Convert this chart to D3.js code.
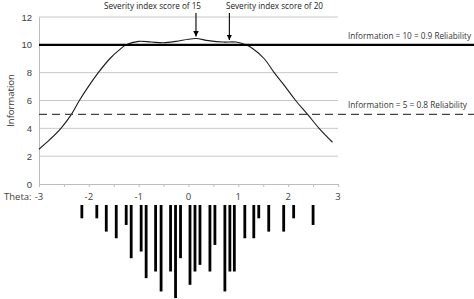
<!DOCTYPE html>
<html>
<head>
<meta charset="utf-8">
<script src="https://cdn.jsdelivr.net/npm/d3@7"></script>
<style>
  body { margin: 0; background: #fff; }
  svg { font-family: "Open Sans", "Liberation Sans", sans-serif; }
</style>
</head>
<body>
<svg id="chart" width="474" height="299"></svg>
<script>
// information curve (theta, information)
var curveTheta = [-3.0, -2.78, -2.56, -2.35, -2.19, -2.01, -1.81, -1.58, -1.4, -1.25, -1.0, -0.75, -0.5, -0.25, 0.0, 0.15, 0.4, 0.7, 0.95, 1.15, 1.3, 1.52, 1.72, 1.94, 2.15, 2.39, 2.62, 2.89];
var curveInfo = [2.5, 3.2, 4.0, 5.0, 6.0, 7.0, 8.0, 9.0, 9.6, 10.0, 10.25, 10.2, 10.15, 10.25, 10.4, 10.45, 10.3, 10.2, 10.2, 10.0, 9.7, 9.0, 8.0, 7.0, 6.0, 5.0, 4.0, 3.0];

// item locations and counts shown as bars under the axis
var itemTheta = [-2.14, -1.84, -1.65, -1.45, -1.25, -1.15, -0.95, -0.85, -0.66, -0.55, -0.36, -0.26, -0.16, 0.03, 0.13, 0.23, 0.43, 0.53, 0.73, 0.83, 0.92, 1.13, 1.31, 1.41, 1.61, 1.91, 2.11, 2.5];
var itemCount = [2, 2, 4, 5, 3, 8, 7, 11, 10, 13, 10, 14, 8, 12, 10, 9, 10, 6, 13, 10, 10, 5, 5, 2, 4, 4, 2, 3];

var yTicks = [0, 2, 4, 6, 8, 10, 12];
var xTicks = [-3, -2, -1, 0, 1, 2, 3];
var refLines = [
  {value: 10, label: "Information = 10 = 0.9 Reliability"},
  {value: 5, label: "Information = 5 = 0.8 Reliability"}
];
var notes = [
  {label: "Severity index score of 15", theta: 0.15, info: 10.45},
  {label: "Severity index score of 20", theta: 0.82, info: 10.2}
];

var svg = d3.select("#chart");

var x = d3.scaleLinear().domain([-3, 3]).range([39, 338]);
var y = d3.scaleLinear().domain([0, 12]).range([184, 17]);
var barLen = d3.scaleLinear().domain([0, 1]).range([0, 6.65]);

// gridlines
svg.append("g")
  .selectAll("line")
  .data(yTicks.filter(d => d > 0))
  .join("line")
  .attr("x1", x(-3))
  .attr("x2", x(3))
  .attr("y1", d => y(d))
  .attr("y2", d => y(d))
  .attr("stroke", "#c8c8c8")
  .attr("stroke-width", 1);

// y axis
var yAxis = svg.append("g")
  .attr("transform", "translate(" + x(-3) + ",0)")
  .call(d3.axisLeft(y).tickValues(yTicks).tickSize(0).tickPadding(7));
yAxis.select(".domain").attr("stroke", "#bdbdbd");
yAxis.selectAll("text").attr("fill", "#404040").attr("font-size", 9.5);

// x axis
var xAxis = svg.append("g")
  .attr("transform", "translate(0," + y(0) + ")")
  .call(d3.axisBottom(x).ticks(12).tickSize(3).tickFormat(""));
xAxis.select(".domain").attr("stroke", "#bdbdbd");
xAxis.selectAll(".tick line").attr("stroke", "#bdbdbd");

svg.append("g")
  .selectAll("text")
  .data(xTicks)
  .join("text")
  .attr("x", d => x(d))
  .attr("y", 200)
  .attr("text-anchor", "middle")
  .attr("font-size", 9.5)
  .attr("fill", "#404040")
  .text(d => d);

svg.append("text")
  .attr("x", 4)
  .attr("y", 200)
  .attr("font-size", 9.5)
  .attr("fill", "#404040")
  .text("Theta:");

svg.append("text")
  .attr("transform", "translate(14," + y(6) + ") rotate(-90)")
  .attr("text-anchor", "middle")
  .attr("font-size", 9.5)
  .attr("fill", "#333")
  .text("Information");

// information curve
var pts = curveTheta.map((t, i) => [t, curveInfo[i]]);
svg.append("path")
  .datum(pts)
  .attr("d", d3.line().x(d => x(d[0])).y(d => y(d[1])).curve(d3.curveCatmullRom))
  .attr("fill", "none")
  .attr("stroke", "#1a1a1a")
  .attr("stroke-width", 1.1);

// reference lines
svg.append("line")
  .attr("x1", x(-3)).attr("x2", 474)
  .attr("y1", y(10)).attr("y2", y(10))
  .attr("stroke", "#000")
  .attr("stroke-width", 2.4);

svg.append("line")
  .attr("x1", x(-3)).attr("x2", 474)
  .attr("y1", y(5)).attr("y2", y(5))
  .attr("stroke", "#444")
  .attr("stroke-width", 1.2)
  .attr("stroke-dasharray", "8,5");

svg.append("g")
  .selectAll("text")
  .data(refLines)
  .join("text")
  .attr("x", 348)
  .attr("y", d => y(d.value) - 6)
  .attr("font-size", 8.4)
  .attr("fill", "#333")
  .attr("textLength", (d, i) => i == 0 ? 123 : 119)
  .attr("lengthAdjust", "spacingAndGlyphs")
  .text(d => d.label);

// annotations
svg.append("defs").append("marker")
  .attr("id", "arrow")
  .attr("viewBox", "0 0 10 10")
  .attr("refX", 10).attr("refY", 5)
  .attr("markerWidth", 5).attr("markerHeight", 5)
  .attr("orient", "auto")
  .append("path")
  .attr("d", "M0,0L10,5L0,10z")
  .attr("fill", "#000");

var note = svg.append("g").selectAll("g").data(notes).join("g");
note.append("text")
  .attr("x", (d, i) => i == 0 ? 104 : 226)
  .attr("y", 9)
  .attr("font-size", 8.6)
  .attr("fill", "#222")
  .attr("textLength", 97)
  .attr("lengthAdjust", "spacingAndGlyphs")
  .text(d => d.label);
note.append("line")
  .attr("x1", d => x(d.theta))
  .attr("x2", d => x(d.theta))
  .attr("y1", 13)
  .attr("y2", d => y(d.info) - 2)
  .attr("stroke", "#000")
  .attr("stroke-width", 1.1)
  .attr("marker-end", "url(#arrow)");

// item bars
svg.append("g")
  .selectAll("rect")
  .data(itemTheta)
  .join("rect")
  .attr("x", d => x(d) - 1.4)
  .attr("y", 205)
  .attr("width", 2.8)
  .attr("height", (d, i) => barLen(itemCount[i]))
  .attr("fill", "#000");
</script>
</body>
</html>
